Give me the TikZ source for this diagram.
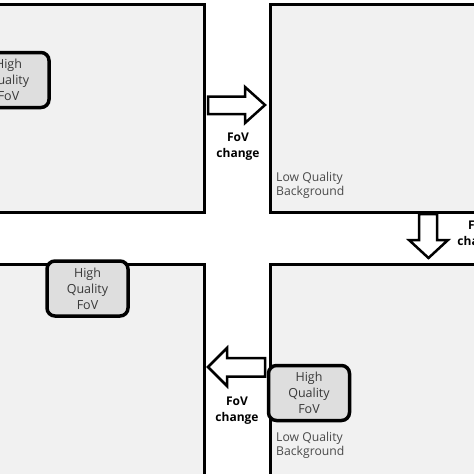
\documentclass[tikz,border=0pt]{standalone}
\usepackage{fontspec}
\setmainfont{Open Sans}
\definecolor{panelgray}{HTML}{F1F1F1}
\definecolor{hqgray}{HTML}{DEDEDE}
\definecolor{hqtext}{HTML}{383838}
\definecolor{lqtext}{HTML}{4A4A4A}
\tikzset{
  panel/.style={draw=black, line width=3pt, fill=panelgray, inner sep=0pt, anchor=north west},
  hqbox/.style={draw=black, line width=3.5pt, fill=hqgray, rounded corners=8pt, inner sep=0pt,
    minimum width=81pt, minimum height=55pt, align=center, text=hqtext,
    font=\fontsize{12.5}{16}\selectfont},
  lqlabel/.style={anchor=west, inner sep=0pt, align=left, text=lqtext,
    font=\fontsize{12.2}{14}\selectfont},
  changelabel/.style={inner sep=0pt, align=center, font=\bfseries\fontsize{12}{16}\selectfont},
  blockarrow/.style={draw=black, line width=2.5pt, fill=white, line join=miter}
}
\begin{document}
\begin{tikzpicture}[x=1pt,y=-1pt]
\useasboundingbox (0,0) rectangle (474,474);
\clip (0,0) rectangle (474,474);
% panels
\node[panel, minimum width=253pt, minimum height=208pt] (p1) at (-50,3) {};
\node[panel, minimum width=253pt, minimum height=208pt] (p2) at (269,3) {};
\node[panel, minimum width=253pt, minimum height=260pt] (p3) at (-50,263) {};
\node[panel, minimum width=253pt, minimum height=260pt] (p4) at (269,263) {};
% high quality FoV boxes
\node[hqbox] (h1) at (8.5,80) {High\\Quality\\FoV};
\node[hqbox] (h3) at (87.5,288.5) {High\\Quality\\FoV};
\node[hqbox] (h4) at (309,393) {High\\Quality\\FoV};
% low quality labels
\node[lqlabel] (l2) at (276,185) {Low Quality\\Background};
\node[lqlabel] (l4) at (276,445) {Low Quality\\Background};
% block arrows
\draw[blockarrow] (208,96.5) -- (245,96.5) -- (245,87) -- (265,105) -- (245,123) -- (245,114) -- (208,114) -- cycle;
\draw[blockarrow] (419,214) -- (437,214) -- (437,240) -- (448,240) -- (428.5,258) -- (409,240) -- (419,240) -- cycle;
\draw[blockarrow] (265,358) -- (227,358) -- (227,348) -- (208,367) -- (227,386) -- (227,376.5) -- (265,376.5) -- cycle;
% labels
\node[changelabel] (c1) at (238,147) {FoV\\change};
\node[changelabel] (c2) at (479,235) {FoV\\change};
\node[changelabel] (c3) at (237,411) {FoV\\change};
\end{tikzpicture}
\end{document}
